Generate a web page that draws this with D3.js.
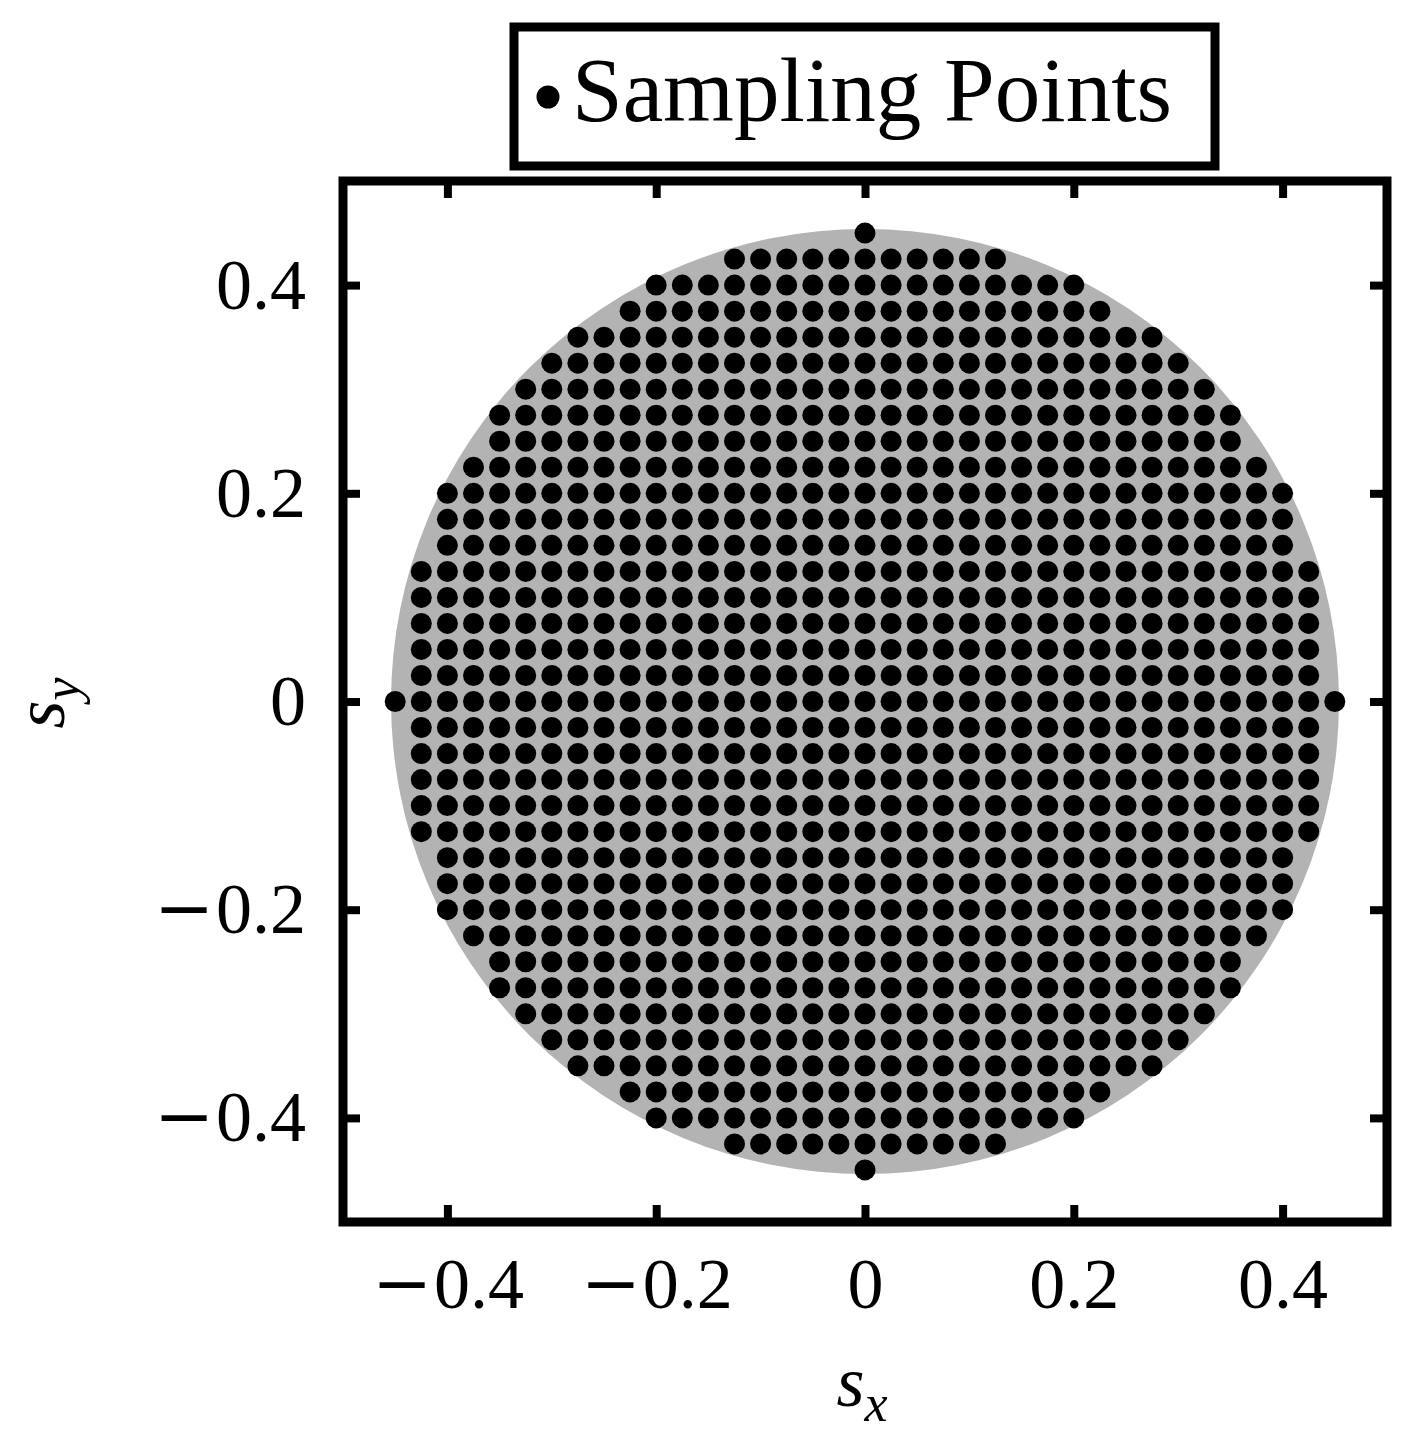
<!DOCTYPE html>
<html>
<head>
<meta charset="utf-8">
<script src="https://cdn.jsdelivr.net/npm/d3@7"></script>
<style>
  body { margin: 0; background: #fff; }
  text { font-family: "Liberation Serif", "Times New Roman", serif; }
</style>
</head>
<body>
<svg id="drawing_region"></svg>
<script>
// grid of sampling points: spacing in s, rows j = 0..18 (mirrored), half count of columns per row
var gridStep = 0.025;
var rowIndex = [0, 1, 2, 3, 4, 5, 6, 7, 8, 9, 10, 11, 12, 13, 14, 15, 16, 17, 18];
var rowHalfCount = [18, 17, 17, 17, 17, 17, 16, 16, 16, 15, 14, 14, 13, 12, 11, 9, 8, 5, 0];
var pupilRadius = 0.454;
var tickValues = [-0.4, -0.2, 0, 0.2, 0.4];
var legendLabel = "Sampling Points";

var config = {
  width: 1426,
  height: 1451,
  left: 343, right: 1387, top: 181, bottom: 1222
};

// build the point list from the row table (both signs of each row)
var points = [];
rowIndex.forEach((j, k) => {
  var ys = j === 0 ? [0] : [j, -j];
  ys.forEach(jj => {
    for (var i = -rowHalfCount[k]; i <= rowHalfCount[k]; i++) {
      points.push({sx: i * gridStep, sy: jj * gridStep});
    }
  });
});

var svg = d3.select('#drawing_region')
  .attr('width', config.width)
  .attr('height', config.height);

var xscale = d3.scaleLinear().domain([-0.5, 0.5]).range([config.left, config.right]);
var yscale = d3.scaleLinear().domain([-0.5, 0.5]).range([config.bottom, config.top]);

var fmt = d => d === 0 ? "0" : d3.format(".1f")(Math.abs(d));

// grey pupil disc
svg.append('ellipse')
  .attr('cx', xscale(0))
  .attr('cy', yscale(0))
  .attr('rx', xscale(pupilRadius) - xscale(0))
  .attr('ry', yscale(0) - yscale(pupilRadius))
  .attr('fill', '#b3b3b3');

// points
svg.append('g').selectAll('circle')
  .data(points)
  .join('circle')
  .attr('cx', d => xscale(d.sx))
  .attr('cy', d => yscale(d.sy))
  .attr('r', 10.5)
  .attr('fill', '#000');

// axes, ticks pointing inward
var tickLen = 17;
var xaxis = d3.axisBottom(xscale).tickValues(tickValues).tickFormat(fmt)
  .tickSizeInner(-tickLen).tickSizeOuter(0).tickPadding(35);
var yaxis = d3.axisLeft(yscale).tickValues(tickValues).tickFormat(fmt)
  .tickSizeInner(-tickLen).tickSizeOuter(0).tickPadding(37);
var xaxisTop = d3.axisTop(xscale).tickValues(tickValues).tickFormat('')
  .tickSizeInner(-tickLen).tickSizeOuter(0);
var yaxisRight = d3.axisRight(yscale).tickValues(tickValues).tickFormat('')
  .tickSizeInner(-tickLen).tickSizeOuter(0);

var labelled = [
  svg.append('g').attr('transform', `translate(0, ${config.bottom})`).call(xaxis),
  svg.append('g').attr('transform', `translate(${config.left}, 0)`).call(yaxis)
];
var plain = [
  svg.append('g').attr('transform', `translate(0, ${config.top})`).call(xaxisTop),
  svg.append('g').attr('transform', `translate(${config.right}, 0)`).call(yaxisRight)
];
labelled.concat(plain).forEach(g => {
  g.select('.domain').remove();
  g.selectAll('.tick line').attr('stroke', '#000').attr('stroke-width', 8);
});
plain.forEach(g => g.selectAll('.tick text').remove());
labelled.forEach(g => {
  g.selectAll('.tick text')
    .attr('fill', '#000')
    .style('font-family', '"Liberation Serif", serif')
    .style('font-size', '72px')
    .each(function(d) {
      // long math minus, as in the typeset figure
      if (d < 0) {
        var t = d3.select(this);
        var s = t.text();
        t.text(null);
        t.append('tspan').style('font-family', '"DejaVu Serif", serif').text('\u2212');
        t.append('tspan').attr('dx', 2).text(s);
      }
    });
});

// frame
svg.append('rect')
  .attr('x', config.left)
  .attr('y', config.top)
  .attr('width', config.right - config.left)
  .attr('height', config.bottom - config.top)
  .attr('fill', 'none')
  .attr('stroke', '#000')
  .attr('stroke-width', 9);

// axis labels
var xlab = svg.append('text')
  .attr('x', 862)
  .attr('y', 1406)
  .attr('text-anchor', 'middle')
  .style('font-size', '72px')
  .style('font-style', 'italic');
xlab.append('tspan').text('s');
xlab.append('tspan').attr('dy', 15).style('font-size', '52px').text('x');

var ylab = svg.append('text')
  .attr('transform', 'translate(64, 703) rotate(-90)')
  .attr('text-anchor', 'middle')
  .style('font-size', '72px')
  .style('font-style', 'italic');
ylab.append('tspan').text('s');
ylab.append('tspan').attr('dy', 15).style('font-size', '52px').text('y');

// legend
var legend = svg.append('g');
legend.append('rect')
  .attr('x', 514)
  .attr('y', 27)
  .attr('width', 701)
  .attr('height', 139)
  .attr('fill', '#fff')
  .attr('stroke', '#000')
  .attr('stroke-width', 9);
legend.append('circle')
  .attr('cx', 548)
  .attr('cy', 97)
  .attr('r', 11.5)
  .attr('fill', '#000');
legend.append('text')
  .attr('x', 572)
  .attr('y', 121)
  .attr('textLength', 600)
  .attr('lengthAdjust', 'spacingAndGlyphs')
  .style('font-size', '92px')
  .text(legendLabel);
</script>
</body>
</html>
